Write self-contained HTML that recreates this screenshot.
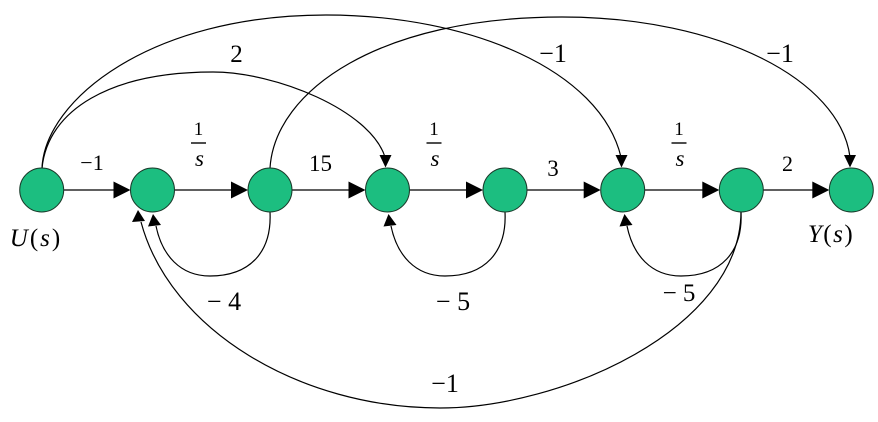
<!DOCTYPE html>
<html><head><meta charset="utf-8"><style>
html,body{margin:0;padding:0;background:#fff;}
svg{display:block;}
svg text{font-family:"Liberation Serif","Times New Roman",Tinos,Times,"DejaVu Serif",serif;fill:#000;}
</style></head><body>
<svg width="878" height="422" viewBox="0 0 878 422" xmlns="http://www.w3.org/2000/svg">
<g fill="none" stroke="#000" stroke-width="1.2">
  <line x1="63.7" y1="190" x2="120" y2="190"/>
  <line x1="174.5" y1="190" x2="238" y2="190"/>
  <line x1="292" y1="190" x2="355" y2="190"/>
  <line x1="409.5" y1="190" x2="473" y2="190"/>
  <line x1="527" y1="190" x2="590" y2="190"/>
  <line x1="644.7" y1="190" x2="709" y2="190"/>
  <line x1="763.3" y1="190" x2="819" y2="190"/>
  <path d="M42,168 C45,100 150,15 326,15 C470,15 600,70 621,157"/>
  <path d="M42,168 C48,110 110,72 213,72 C275,72 370,110 385,157"/>
  <path d="M270,168 C275,90 380,17 562,17 C720,17 840,80 850,157"/>
  <path d="M270,212 C272,252 250,276 210,276 C180,276 162,255 156,226"/>
  <path d="M505,212 C507,252 485,276 445,276 C415,276 397,255 391,226"/>
  <path d="M741,212 C743,252 721,276 681,276 C651,276 633,255 627,226"/>
  <path d="M741,212 C740,330 560,408 440,408 C300,408 170,330 141,222"/>
</g>
<g fill="#000">
  <polygon points="130.5,190 113.5,181.5 113.5,198.5"/>
  <polygon points="248,190 231,181.5 231,198.5"/>
  <polygon points="365.5,190 348.5,181.5 348.5,198.5"/>
  <polygon points="483,190 466,181.5 466,198.5"/>
  <polygon points="600.7,190 583.7,181.5 583.7,198.5"/>
  <polygon points="719.3,190 702.3,181.5 702.3,198.5"/>
  <polygon points="829.3,190 812.3,181.5 812.3,198.5"/>
  <polygon points="385.5,167.5 379.5,155 391.5,155"/>
  <polygon points="621.5,167.5 615.5,155 627.5,155"/>
  <polygon points="850,167.5 844,155 856,155"/>
  <polygon points="153,214 148,226.5 161,225"/>
  <polygon points="388.5,214 383.5,226.5 396.5,225"/>
  <polygon points="624.5,214 619.5,226.5 632.5,225"/>
  <polygon points="138,210 132,222 145,221"/>
</g>
<g fill="#1cbe80" stroke="#1a3a2a" stroke-width="1">
  <circle cx="41.7" cy="190" r="22"/>
  <circle cx="152.5" cy="190" r="22"/>
  <circle cx="270" cy="190" r="22"/>
  <circle cx="387.5" cy="190" r="22"/>
  <circle cx="505" cy="190" r="22"/>
  <circle cx="622.7" cy="190" r="22"/>
  <circle cx="741.3" cy="190" r="22"/>
  <circle cx="851.3" cy="190" r="22"/>
</g>
<g font-family="Liberation Serif, Times New Roman, Tinos, Times, DejaVu Serif, serif" style="font-family:'Liberation Serif','Times New Roman',Tinos,Times,'DejaVu Serif',serif">
<text x="92" y="170" font-size="22" text-anchor="middle">−1</text>
<text x="320.5" y="171" font-size="23" text-anchor="middle">15</text>
<text x="553" y="176" font-size="23" text-anchor="middle">3</text>
<text x="787.5" y="171" font-size="22" text-anchor="middle">2</text>

<text x="198.5" y="135" font-size="19" text-anchor="middle">1</text>
<line x1="191" y1="143" x2="206" y2="143" stroke="#000" stroke-width="1.4"/>
<text x="199.5" y="166" font-size="23" font-style="italic" text-anchor="middle">s</text>

<text x="434" y="135" font-size="19" text-anchor="middle">1</text>
<line x1="426.5" y1="143" x2="441.5" y2="143" stroke="#000" stroke-width="1.4"/>
<text x="435" y="166" font-size="23" font-style="italic" text-anchor="middle">s</text>

<text x="679" y="135" font-size="19" text-anchor="middle">1</text>
<line x1="671.5" y1="143" x2="686.5" y2="143" stroke="#000" stroke-width="1.4"/>
<text x="680" y="166" font-size="23" font-style="italic" text-anchor="middle">s</text>

<text x="236.5" y="62" font-size="25" text-anchor="middle">2</text>
<text x="553" y="62" font-size="26" text-anchor="middle">−1</text>
<text x="780" y="62" font-size="26" text-anchor="middle">−1</text>

<text x="224" y="310" font-size="26" text-anchor="middle">− 4</text>
<text x="453" y="310" font-size="26" text-anchor="middle">− 5</text>
<text x="679" y="301" font-size="25" text-anchor="middle">− 5</text>
<text x="445" y="392" font-size="26" text-anchor="middle">−1</text>

<text x="36" y="246" font-size="25" text-anchor="middle" letter-spacing="2"><tspan font-style="italic">U</tspan>(<tspan font-style="italic">s</tspan>)</text>
<text x="831" y="242" font-size="25" text-anchor="middle" letter-spacing="1.5"><tspan font-style="italic">Y</tspan>(<tspan font-style="italic">s</tspan>)</text>
</g>
</svg>
</body></html>
